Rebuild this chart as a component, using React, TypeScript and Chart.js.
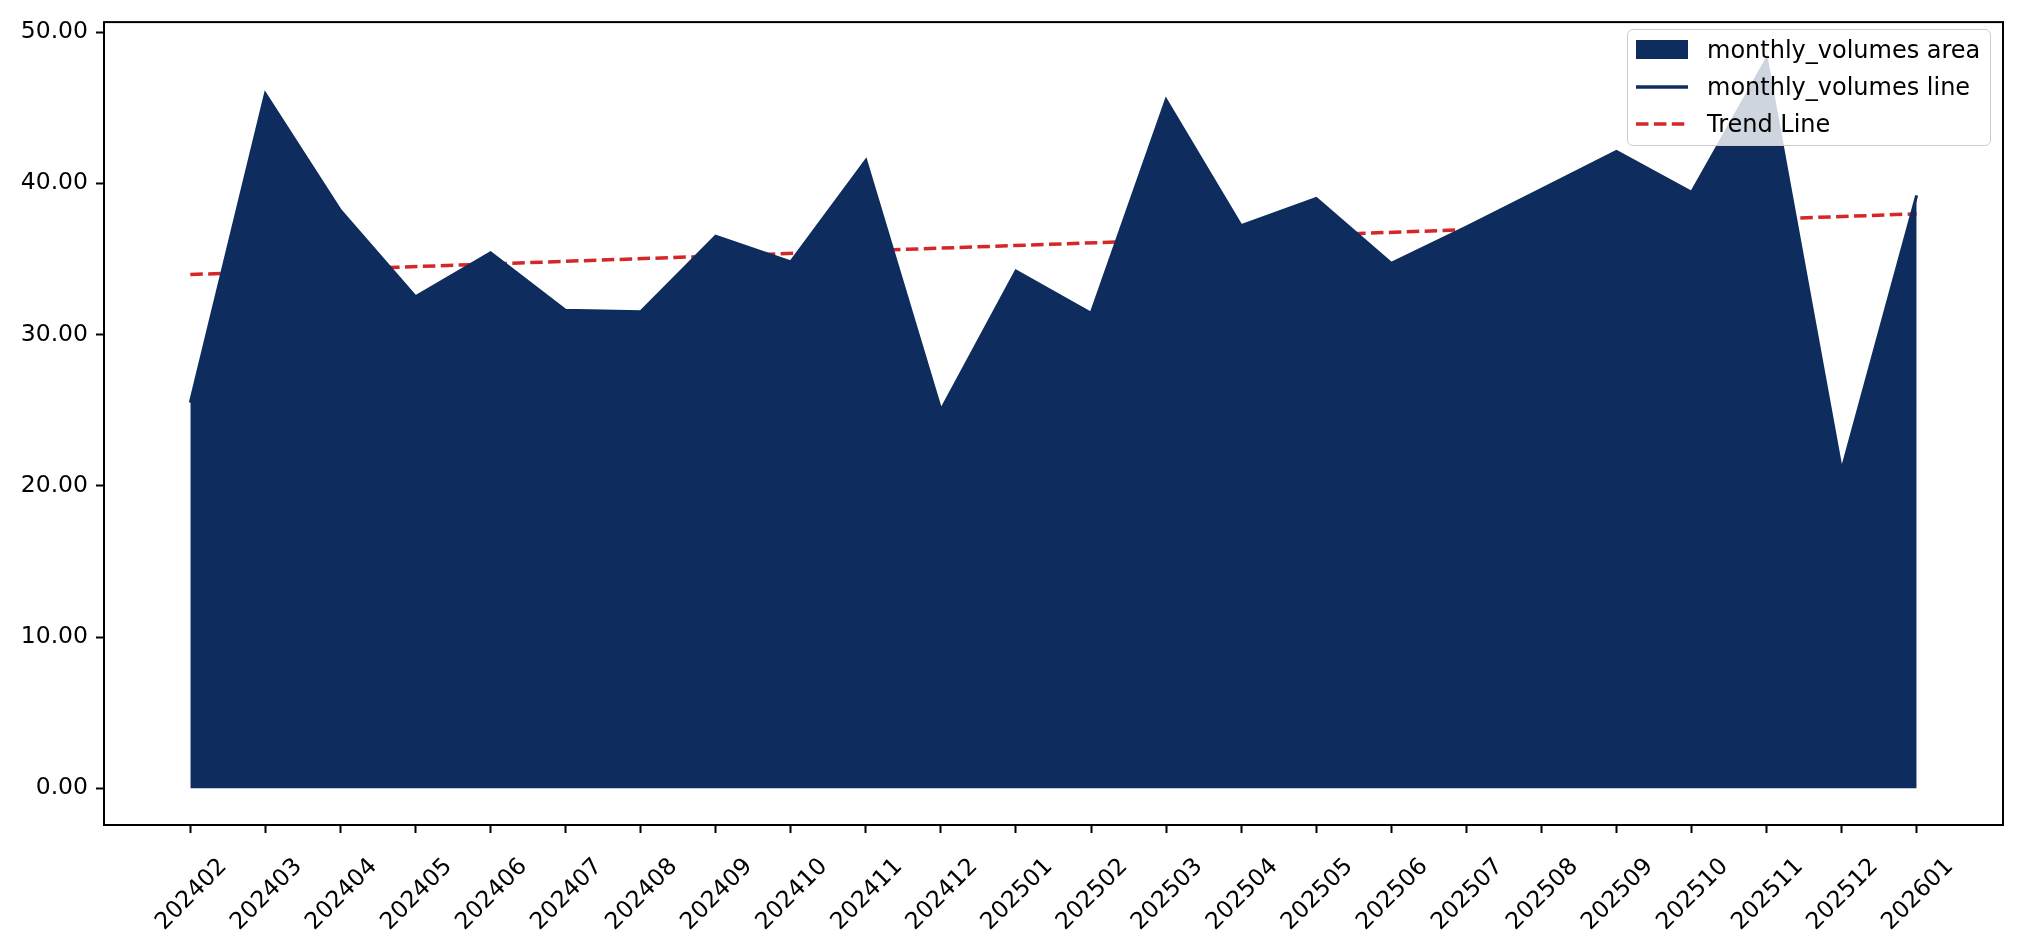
import { useEffect, useRef } from "react";
import Chart from "chart.js/auto";

const months = [
  "202402", "202403", "202404", "202405", "202406", "202407",
  "202408", "202409", "202410", "202411", "202412", "202501",
  "202502", "202503", "202504", "202505", "202506", "202507",
  "202508", "202509", "202510", "202511", "202512", "202601",
];

const monthlyVolumes = [
  25.5, 45.9, 38.2, 32.5, 35.4, 31.6,
  31.5, 36.5, 34.8, 41.5, 25.0, 34.2,
  31.4, 45.5, 37.2, 39.0, 34.7, 37.1,
  39.6, 42.1, 39.4, 48.2, 21.0, 39.2,
];

// trend line read at its two ends, the gap in between is spanned
const trendLine: (number | null)[] = [
  33.97, null, null, null, null, null,
  null, null, null, null, null, null,
  null, null, null, null, null, null,
  null, null, null, null, null, 37.98,
];

const yTicks = [0, 10, 20, 30, 40, 50];

const NAVY = "#0e2d5e";
const RED = "#d62728";
const FONT = "'DejaVu Sans', sans-serif";

const framePlugin = {
  id: "frame",
  afterDraw(chart: any) {
    const { ctx, chartArea } = chart;
    ctx.save();
    ctx.strokeStyle = "#000";
    ctx.lineWidth = 2;
    ctx.strokeRect(
      chartArea.left,
      chartArea.top,
      chartArea.right - chartArea.left,
      chartArea.bottom - chartArea.top
    );
    ctx.restore();
  },
};

function Legend() {
  const row = (top: number) => ({
    position: "absolute" as const,
    left: 0,
    top,
    height: 30,
    width: "100%",
  });
  const label = {
    position: "absolute" as const,
    left: 79,
    top: 0,
    lineHeight: "30px",
    fontSize: 24,
    color: "#000",
    whiteSpace: "nowrap" as const,
  };
  return (
    <div
      style={{
        position: "absolute",
        left: 1627,
        top: 29,
        width: 364,
        height: 117,
        boxSizing: "border-box",
        background: "rgba(255,255,255,0.8)",
        border: "1.5px solid #cccccc",
        borderRadius: 6,
        fontFamily: FONT,
      }}
    >
      <div style={row(5)}>
        <div
          style={{
            position: "absolute",
            left: 8,
            top: 5,
            width: 52,
            height: 19,
            background: NAVY,
          }}
        />
        <span style={label}>monthly_volumes area</span>
      </div>
      <div style={row(42)}>
        <svg
          width={52}
          height={30}
          style={{ position: "absolute", left: 8, top: 0 }}
        >
          <line x1={0} y1={15} x2={52} y2={15} stroke={NAVY} strokeWidth={3.5} />
        </svg>
        <span style={label}>monthly_volumes line</span>
      </div>
      <div style={row(79)}>
        <svg
          width={52}
          height={30}
          style={{ position: "absolute", left: 8, top: 0 }}
        >
          <line
            x1={0}
            y1={15}
            x2={52}
            y2={15}
            stroke={RED}
            strokeWidth={3.5}
            strokeDasharray="12.5 5.4"
          />
        </svg>
        <span style={label}>Trend Line</span>
      </div>
    </div>
  );
}

export default function App() {
  const canvasRef = useRef<HTMLCanvasElement | null>(null);

  useEffect(() => {
    document.body.style.margin = "0";
    if (!canvasRef.current) return;

    const points = monthlyVolumes.map((v, i) => ({ x: i, y: v }));
    const trendPoints = trendLine.map((v, i) => ({ x: i, y: v }));

    const chart = new Chart(canvasRef.current, {
      type: "line",
      data: {
        datasets: [
          {
            label: "monthly_volumes area",
            data: points,
            fill: "origin",
            backgroundColor: NAVY,
            borderWidth: 0,
            pointRadius: 0,
            tension: 0,
          },
          {
            label: "monthly_volumes line",
            data: points,
            fill: false,
            borderColor: NAVY,
            borderWidth: 3,
            pointRadius: 0,
            tension: 0,
          },
          {
            label: "Trend Line",
            data: trendPoints as any,
            fill: false,
            borderColor: RED,
            borderWidth: 3.5,
            borderDash: [12.5, 5.4],
            pointRadius: 0,
            spanGaps: true,
            tension: 0,
          },
        ],
      },
      options: {
        responsive: false,
        animation: false,
        devicePixelRatio: 1,
        layout: {
          padding: { top: 17, right: 17, left: 0, bottom: 0 },
        },
        plugins: {
          legend: { display: false },
          tooltip: { enabled: false },
        },
        scales: {
          x: {
            type: "linear",
            min: -1.15,
            max: 24.15,
            afterBuildTicks: (scale: any) => {
              scale.ticks = months.map((_, i) => ({ value: i }));
            },
            afterFit: (scale: any) => {
              scale.height = 117;
            },
            border: { display: false },
            grid: {
              drawOnChartArea: false,
              drawTicks: true,
              tickLength: 8,
              tickWidth: 2,
              tickColor: "#000",
            },
            ticks: {
              autoSkip: false,
              maxRotation: 45,
              minRotation: 45,
              labelOffset: 33,
              padding: 20,
              color: "#000",
              font: { size: 23.5, family: FONT },
              callback: (value: any) => months[value] ?? "",
            },
          },
          y: {
            min: -2.43,
            max: 50.66,
            afterBuildTicks: (scale: any) => {
              scale.ticks = yTicks.map((v) => ({ value: v }));
            },
            afterFit: (scale: any) => {
              scale.width = 104;
            },
            border: { display: false },
            grid: {
              drawOnChartArea: false,
              drawTicks: true,
              tickLength: 8,
              tickWidth: 2,
              tickColor: "#000",
            },
            ticks: {
              padding: 8,
              color: "#000",
              font: { size: 23.5, family: FONT },
              callback: (value: any) => Number(value).toFixed(2),
            },
          },
        },
      },
      plugins: [framePlugin],
    });

    return () => {
      chart.destroy();
    };
  }, []);

  return (
    <div
      style={{
        position: "fixed",
        left: 0,
        top: 0,
        width: 2020,
        height: 942,
        background: "#fff",
      }}
    >
      <canvas ref={canvasRef} width={2020} height={942}></canvas>
      <Legend />
    </div>
  );
}
